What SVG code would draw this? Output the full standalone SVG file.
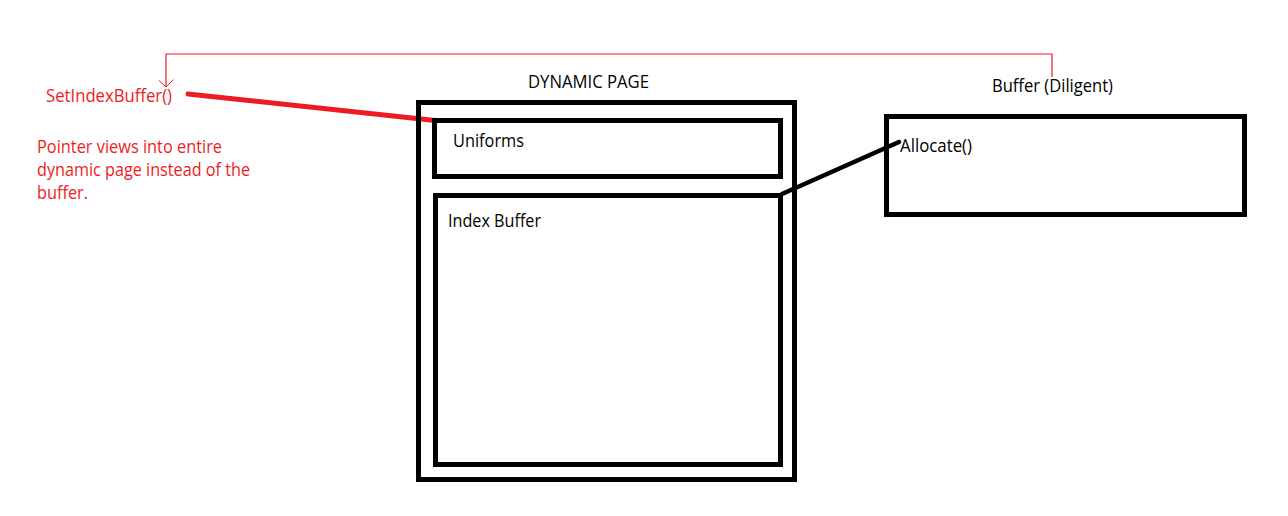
<svg xmlns="http://www.w3.org/2000/svg" width="1288" height="516" viewBox="0 0 1288 516">
<style>
.box{fill:none;stroke:#000;stroke-width:5}
.t{font-family:"Open Sans","Liberation Sans",sans-serif;font-size:17.5px;fill:#000}
.r{fill:#ED1C24}
</style>
<rect width="1288" height="516" fill="#fff"/>
<g id="connectors">
<path d="M166,54 H1052 V77" fill="none" stroke="#ED1C24" stroke-width="1.2"/>
<path d="M166,54 V87" fill="none" stroke="#ED1C24" stroke-width="1.2"/>
<path d="M159,80.5 L166,87 L173.5,79.5" fill="none" stroke="#ED1C24" stroke-width="1"/>
<line x1="188" y1="94" x2="435" y2="120.5" stroke="#ED1C24" stroke-width="5" stroke-linecap="round"/>
<line x1="782" y1="194" x2="899" y2="142" stroke="#000" stroke-width="4.5" stroke-linecap="round"/>
</g>
<g id="setindexbuffer">
<text class="t r" x="46" y="102" textLength="126" lengthAdjust="spacingAndGlyphs">SetIndexBuffer()</text>
</g>
<g id="note">
<text class="t r" x="37" y="153" textLength="185" lengthAdjust="spacingAndGlyphs">Pointer views into entire</text>
<text class="t r" x="37" y="176" textLength="213" lengthAdjust="spacingAndGlyphs">dynamic page instead of the</text>
<text class="t r" x="37" y="199" textLength="51" lengthAdjust="spacingAndGlyphs">buffer.</text>
</g>
<g id="dynamic-page">
<text class="t" x="528" y="88" textLength="121" lengthAdjust="spacingAndGlyphs">DYNAMIC PAGE</text>
<rect class="box" x="418.5" y="102.5" width="376" height="377"/>
</g>
<g id="uniforms">
<rect class="box" x="434.5" y="120.5" width="346" height="56"/>
<text class="t" x="453" y="147" textLength="71" lengthAdjust="spacingAndGlyphs">Uniforms</text>
</g>
<g id="index-buffer">
<rect class="box" x="435.5" y="195.5" width="345" height="269"/>
<text class="t" x="448" y="227" textLength="93" lengthAdjust="spacingAndGlyphs">Index Buffer</text>
</g>
<g id="buffer-diligent">
<text class="t" x="992" y="92" textLength="121" lengthAdjust="spacingAndGlyphs">Buffer (Diligent)</text>
<rect class="box" x="886.5" y="116.5" width="358" height="98"/>
<text class="t" x="900" y="152" textLength="72" lengthAdjust="spacingAndGlyphs">Allocate()</text>
</g>
</svg>
